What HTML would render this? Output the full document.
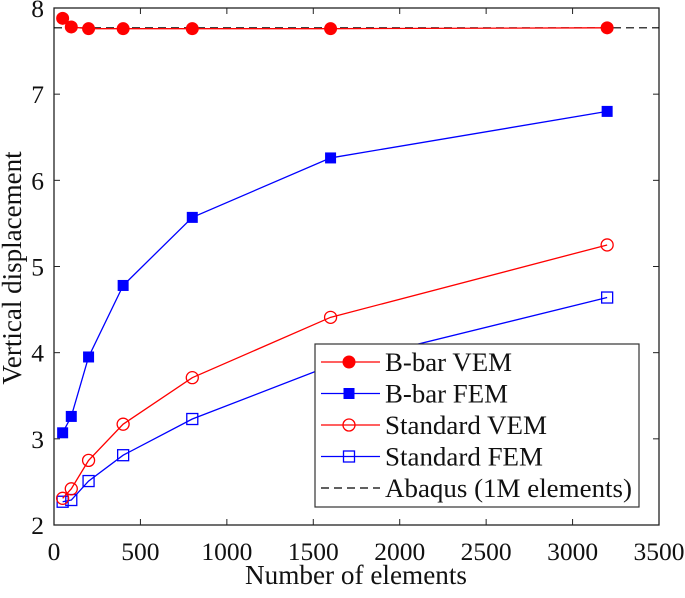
<!DOCTYPE html>
<html><head><meta charset="utf-8"><style>
body{margin:0;background:#fff}
svg text{font-family:"Liberation Serif",serif;fill:#111}
</style></head><body>
<svg id="c" width="685" height="593"></svg>
<script>
const xValues=[50,100,200,400,800,1600,3200];
const bbarVEM=[7.88,7.78,7.76,7.76,7.76,7.76,7.77];
const bbarFEM=[3.07,3.26,3.95,4.78,5.57,6.26,6.80];
const stdVEM=[2.31,2.42,2.75,3.17,3.71,4.41,5.25];
const stdFEM=[2.27,2.29,2.51,2.81,3.23,3.85,4.64];
const abaqus=7.77;
const xTicks=[0,500,1000,1500,2000,2500,3000,3500];
const yTicks=[2,3,4,5,6,7,8];
const legendLabels=['B-bar VEM','B-bar FEM','Standard VEM','Standard FEM','Abaqus (1M elements)'];
const L=54,R=659,T=8,B=525;
const X=v=>L+(v-0)/3500*(R-L);
const Y=v=>B-(v-2)/6*(B-T);
const svg=document.getElementById('c');
const NS='http://www.w3.org/2000/svg';
function mk(t,a,p){const e=document.createElementNS(NS,t);for(const k in a)e.setAttribute(k,a[k]);(p||svg).appendChild(e);return e;}
let ax=mk('rect',{x:L,y:T,width:R-L,height:B-T,fill:'none',stroke:'#222','stroke-width':1.3});


xTicks.forEach(v=>{mk('line',{x1:X(v),x2:X(v),y1:B,y2:B-6,stroke:'#222'});mk('line',{x1:X(v),x2:X(v),y1:T,y2:T+6,stroke:'#222'});
 let t=mk('text',{x:X(v),y:B+35,'text-anchor':'middle','font-size':25.5});t.textContent=v;
 
 });
yTicks.forEach(v=>{mk('line',{x1:L,x2:L+6,y1:Y(v),y2:Y(v),stroke:'#222'});mk('line',{x1:R,x2:R-6,y1:Y(v),y2:Y(v),stroke:'#222'});
 let t=mk('text',{x:L-10,y:Y(v)+9,'text-anchor':'end','font-size':25.5});t.textContent=v;
 
 });
let xl=mk('text',{x:245,y:584,'font-size':27,textLength:222,lengthAdjust:'spacingAndGlyphs'});xl.textContent='Number of elements';


let yl=mk('text',{x:0,y:0,'font-size':27,'text-anchor':'middle',transform:'translate(21,268) rotate(-90)'});yl.textContent='Vertical displacement';


let ab=mk('line',{x1:L,x2:R,y1:Y(abaqus),y2:Y(abaqus),stroke:'#000','stroke-width':1.2,'stroke-dasharray':'8,5'});


function marker(g,kind,color,x,y){
 if(kind==='fc')mk('circle',{cx:x,cy:y,r:6.5,fill:color},g);
 if(kind==='oc')mk('circle',{cx:x,cy:y,r:6,fill:'none',stroke:color,'stroke-width':1.3},g);
 if(kind==='fs')mk('rect',{x:x-5.5,y:y-5.5,width:11,height:11,fill:color},g);
 if(kind==='os')mk('rect',{x:x-5.5,y:y-5.5,width:11,height:11,fill:'none',stroke:color,'stroke-width':1.3},g);
}
function series(vals,color,kind,name){
 const g=mk('g',{});
 
 
 mk('polyline',{points:vals.map((v,i)=>X(xValues[i])+','+Y(v)).join(' '),fill:'none',stroke:color,'stroke-width':1.3},g);
 vals.forEach((v,i)=>marker(g,kind,color,X(xValues[i]),Y(v)));
}
series(stdFEM,'#0000ff','os','standard-fem-series');
series(stdVEM,'#ff0000','oc','standard-vem-series');
series(bbarFEM,'#0000ff','fs','bbar-fem-series');
series(bbarVEM,'#ff0000','fc','bbar-vem-series');
const lg=mk('g',{});


mk('rect',{x:315,y:344,width:324,height:163,fill:'#fff',stroke:'#333','stroke-width':1.2},lg);
const styles=[['#ff0000','fc',127],['#0000ff','fs',123],['#ff0000','oc',162],['#0000ff','os',158],['#000','d',247]];
legendLabels.forEach((lab,i)=>{const it=styles[i];const y=362+i*31.5;
 const e=mk('g',{},lg);
 
 
 mk('line',{x1:321,x2:380,y1:y,y2:y,stroke:it[0],'stroke-width':1.2,'stroke-dasharray':it[1]==='d'?'8,5':'none'},e);
 if(it[1]!=='d')marker(e,it[1],it[0],349,y);
 const t=mk('text',{x:385,y:y+9,'font-size':26,textLength:it[2],lengthAdjust:'spacingAndGlyphs'},e);t.textContent=lab;});
</script>
</body></html>
